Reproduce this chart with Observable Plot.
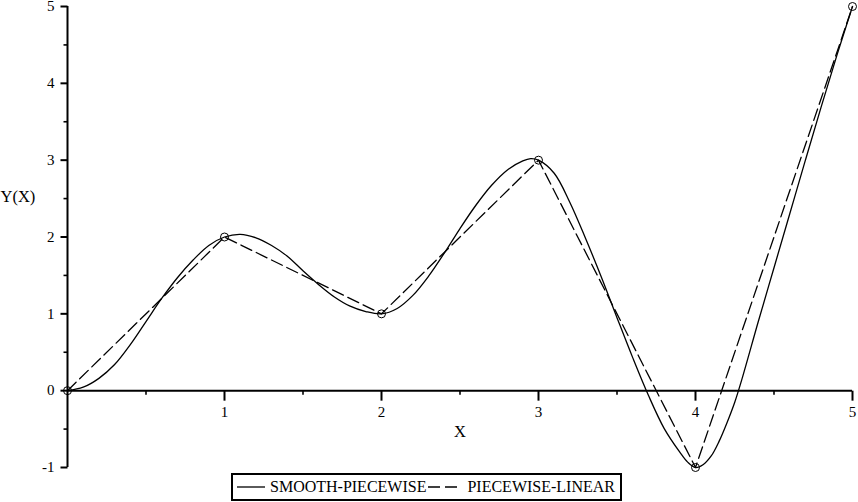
<!DOCTYPE html>
<html>
<head>
<meta charset="utf-8">
<script src="https://cdn.jsdelivr.net/npm/d3@7"></script>
<script src="https://cdn.jsdelivr.net/npm/@observablehq/plot@0.6"></script>
<style>
  html, body { margin: 0; padding: 0; background: #fff; }
  #wrap { position: relative; width: 858px; height: 502px; font-family: "Liberation Serif", "Times New Roman", serif; }
  #wrap svg { overflow: visible; }
  #legend { position: absolute; left: 231px; top: 473px; height: 24px; border: 2px solid #000; display: flex; align-items: center; font-size: 16px; color: #000; padding: 0 3px 0 4px; white-space: nowrap; background: #fff; }
  #legend span { margin: 0 2px 0 5px; }
  #legend svg { overflow: hidden; }
</style>
</head>
<body>
<div id="wrap"></div>
<script>
// Series names (legend)
const seriesNames = ["SMOOTH-PIECEWISE", "PIECEWISE-LINEAR"];

// Data points (piecewise linear series)
const knotX = [0, 1, 2, 3, 4, 5];
const knotY = [0, 2, 1, 3, -1, 5];

// Smooth piecewise curve
const smoothX = [0, 0.1, 0.2, 0.3, 0.4, 0.5, 0.6, 0.7, 0.8, 0.9,
                 1.0, 1.1, 1.2, 1.3, 1.4, 1.5, 1.6, 1.7, 1.8, 1.9,
                 2.0, 2.1, 2.2, 2.3, 2.4, 2.5, 2.6, 2.7, 2.8, 2.9, 2.95,
                 3.0, 3.1, 3.2, 3.3, 3.4, 3.5, 3.6, 3.7, 3.8, 3.9, 3.95,
                 4.0, 4.05, 4.1, 4.15, 4.2, 4.25, 4.3, 4.4, 4.5, 4.6, 4.7, 4.8, 4.9, 5.0];
const smoothY = [0, 0.045, 0.16, 0.34, 0.60, 0.90, 1.20, 1.47, 1.70, 1.89,
                 2.0, 2.035, 1.99, 1.89, 1.75, 1.56, 1.38, 1.22, 1.10, 1.03,
                 1.0, 1.07, 1.24, 1.49, 1.79, 2.11, 2.41, 2.67, 2.87, 2.99, 3.02,
                 3.0, 2.83, 2.45, 1.98, 1.48, 0.95, 0.43, -0.06, -0.49, -0.80, -0.93,
                 -1.0, -0.96, -0.85, -0.66, -0.42, -0.15, 0.18, 0.90, 1.60, 2.30, 3.00, 3.69, 4.36, 5.0];

// Axis ticks
const xMajor = [1, 2, 3, 4, 5];
const xMinor = [0.5, 1.5, 2.5, 3.5, 4.5];
const yMajor = [-1, 0, 1, 2, 3, 4, 5];
const yMinor = [-0.5, 0.5, 1.5, 2.5, 3.5, 4.5];
const xLabel = "X";
const yLabel = "Y(X)";

const smooth = smoothX.map((x, i) => ({x, y: smoothY[i]}));
const knots = knotX.map((x, i) => ({x, y: knotY[i]}));

const tickDown = (L) => ({draw(ctx) { ctx.moveTo(0, 0); ctx.lineTo(0, L); }});
const tickLeft = (L) => ({draw(ctx) { ctx.moveTo(0, 0); ctx.lineTo(-L, 0); }});

const chart = Plot.plot({
  width: 858,
  height: 480,
  marginLeft: 67,
  marginRight: 6,
  marginTop: 6,
  marginBottom: 13,
  x: {domain: [0, 5], axis: null},
  y: {domain: [-1, 5], axis: null},
  style: {fontFamily: "'Liberation Serif', 'Times New Roman', serif", fontSize: "15px", color: "#000", background: "transparent", overflow: "visible"},
  marks: [
    // axes through the origin
    Plot.ruleY([0], {x1: 0, x2: 5, stroke: "#000", strokeWidth: 2}),
    Plot.ruleX([0], {y1: -1, y2: 5, stroke: "#000", strokeWidth: 2}),
    Plot.dot(xMajor, {x: d => d, y: 0, symbol: tickDown(10), stroke: "#000", fill: "none", strokeWidth: 2}),
    Plot.dot(xMinor, {x: d => d, y: 0, symbol: tickDown(4), stroke: "#000", fill: "none", strokeWidth: 1.6}),
    Plot.dot(yMajor, {x: 0, y: d => d, symbol: tickLeft(7), stroke: "#000", fill: "none", strokeWidth: 2}),
    Plot.dot(yMinor, {x: 0, y: d => d, symbol: tickLeft(4), stroke: "#000", fill: "none", strokeWidth: 1.6}),
    Plot.text(xMajor, {x: d => d, y: 0, dy: 22, text: d => String(d), fill: "#000", fontSize: 15}),
    Plot.text(yMajor, {x: 0, y: d => d, dx: -13, textAnchor: "end", text: d => String(d), fill: "#000", fontSize: 15}),
    Plot.text([xLabel], {x: 2.5, y: 0, dy: 41, text: d => d, fill: "#000", fontSize: 16.5}),
    Plot.text([yLabel], {frameAnchor: "left", y: 2.5, dx: -67, dy: -2, textAnchor: "start", text: d => d, fill: "#000", fontSize: 16.5}),
    // series
    Plot.line(knots, {x: "x", y: "y", stroke: "#000", strokeWidth: 1.3, strokeDasharray: "12,5"}),
    Plot.line(smooth, {x: "x", y: "y", curve: "catmull-rom", stroke: "#000", strokeWidth: 1.3}),
    Plot.dot(knots, {x: "x", y: "y", r: 4, stroke: "#000", fill: "none", strokeWidth: 1})
  ]
});

const wrap = document.getElementById("wrap");
wrap.appendChild(chart);

// Legend
const legend = document.createElement("div");
legend.id = "legend";
const dashes = [null, "12,5"];
seriesNames.forEach((name, i) => {
  const w = i === 0 ? 28 : 34;
  const s = d3.create("svg").attr("width", w).attr("height", 10);
  s.append("line").attr("x1", 0).attr("x2", w).attr("y1", 5).attr("y2", 5)
    .attr("stroke", "#000").attr("stroke-width", 1.3).attr("stroke-dasharray", dashes[i]);
  legend.appendChild(s.node());
  const t = document.createElement("span");
  t.textContent = name;
  legend.appendChild(t);
});
wrap.appendChild(legend);
</script>
</body>
</html>
